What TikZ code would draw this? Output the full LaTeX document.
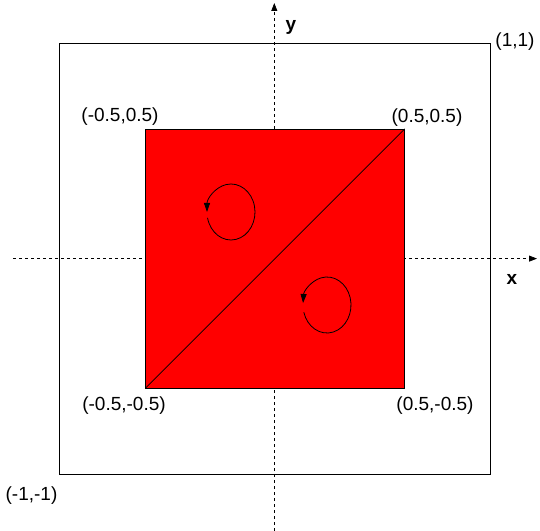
\documentclass[tikz,border=0pt]{standalone}
\usepackage{fontspec}
\setmainfont{Liberation Sans}
\usetikzlibrary{arrows.meta}

\begin{document}
\begin{tikzpicture}[x=1bp, y=-1bp,
  sq/.style={draw, line width=0.8bp, inner sep=0pt, minimum size=#1},
  axis/.style={dash pattern=on 3bp off 3bp, line width=0.8bp,
    -{Triangle[length=8bp,width=6bp]}},
  spin/.style={line width=0.8bp, -{Triangle[length=9bp,width=6bp]}},
  lbl/.style={inner sep=0pt, font=\fontsize{19bp}{22bp}\selectfont},
  axlbl/.style={lbl, font=\fontsize{19bp}{22bp}\selectfont\bfseries}
]
  \useasboundingbox (0,0) rectangle (540,531);
  \node[sq=431bp] (outer) at (274.8,258.5) {};
  % axes
  \coordinate (xl) at (13,258.6);
  \coordinate (xr) at (537,258.6);
  \coordinate (yb) at (274.3,531);
  \coordinate (yt) at (274.3,3);
  \draw[axis] (xl) -- (xr);
  \draw[axis] (yb) -- (yt);
  \node[axlbl] (xname) at (512,279) {x};
  \node[axlbl] (yname) at (291,27) {y};
  % unit square
  \node[sq=258.6bp, fill=red] (inner) at (275,258.6) {};
  \draw[line width=0.6bp] (inner.south west) -- (inner.north east);
  \coordinate (c1) at (231,212);
  \coordinate (c2) at (327,305);
  \draw[spin] (c1) ++(192:24bp and 28bp)
    arc[start angle=192, end angle=540, x radius=24bp, y radius=28bp];
  \draw[spin] (c2) ++(195:24bp and 28bp)
    arc[start angle=195, end angle=536, x radius=24bp, y radius=28bp];
  % corner labels
  \node[lbl] (pp) at (427,118) {(0.5,0.5)};
  \node[lbl] (mp) at (120,117) {(-0.5,0.5)};
  \node[lbl] (mm) at (124,406) {(-0.5,-0.5)};
  \node[lbl] (pm) at (435,406) {(0.5,-0.5)};
  \node[lbl] (one) at (515,42) {(1,1)};
  \node[lbl] (mone) at (31.5,496) {(-1,-1)};
\end{tikzpicture}
\end{document}
